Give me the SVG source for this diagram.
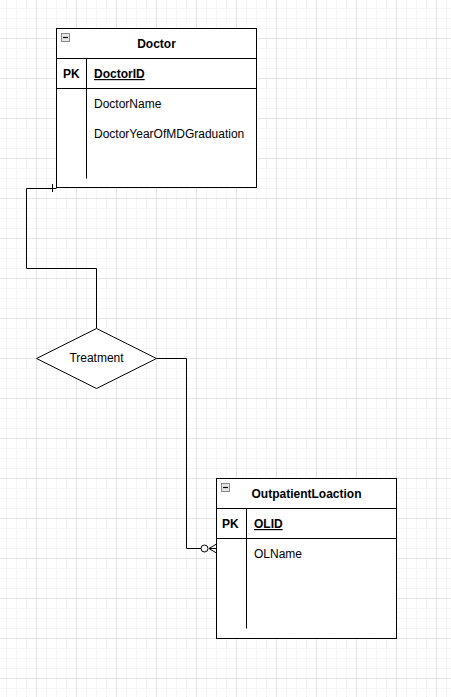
<svg xmlns="http://www.w3.org/2000/svg" width="451" height="697" viewBox="0 0 451 697">
<defs>
<pattern id="minor" x="6" y="8" width="10" height="10" patternUnits="userSpaceOnUse">
<path d="M0 0.5H10M0.5 0V10" fill="none" stroke="#f5f5f5" stroke-width="1"/>
</pattern>
<pattern id="major" x="36" y="38" width="40" height="40" patternUnits="userSpaceOnUse">
<path d="M0 0.5H40M0.5 0V40" fill="none" stroke="#e3e3e3" stroke-width="1"/>
</pattern>
<g id="minus">
<rect x="0.5" y="0.5" width="8" height="8" fill="#e6e6e6" stroke="#8a8a8a"/>
<path d="M2 4.5H7" stroke="#000" stroke-width="1.2"/>
</g>
</defs>
<style>
.box{fill:#fff;stroke:#000;stroke-width:1}
.ln{fill:none;stroke:#000;stroke-width:1}
text{font-family:"Liberation Sans",Arial,Helvetica,sans-serif;font-size:12px;fill:#000}
.b{font-weight:bold}
.c{text-anchor:middle}
</style>
<rect width="451" height="697" fill="#fff"/>
<rect width="451" height="697" fill="url(#minor)"/>
<rect width="451" height="697" fill="url(#major)"/>

<g id="connectors">
<path class="ln" d="M56.5 188.5H26.5V268.5H96.5V328.5"/>
<path class="ln" d="M52.5 184V192"/>
<path class="ln" d="M156.5 358.5H186.5V548.5H201"/>
<circle cx="204.5" cy="548.5" r="3.5" fill="#fff" stroke="#000" stroke-width="1"/>
<path class="ln" d="M216.5 544L209 548.5L216.5 553M209 548.5H216.5"/>
</g>

<g id="doctor">
<rect class="box" x="56.5" y="28.5" width="200" height="159"/>
<path class="ln" d="M56.5 58.5H256.5M56.5 88.5H256.5M86.5 58.5V178.5"/>
<use href="#minus" x="61" y="33"/>
<text class="b c" x="156.5" y="48">Doctor</text>
<text class="b" x="63" y="78">PK</text>
<text class="b" x="94" y="78" text-decoration="underline">DoctorID</text>
<text x="94" y="108">DoctorName</text>
<text x="94" y="138">DoctorYearOfMDGraduation</text>
</g>

<g id="treatment">
<polygon class="box" points="96.5,328.5 156.5,358.5 96.5,388.5 36.5,358.5"/>
<text class="c" x="96.5" y="362">Treatment</text>
</g>

<g id="outpatient">
<rect class="box" x="216.5" y="478.5" width="180" height="160"/>
<path class="ln" d="M216.5 508.5H396.5M216.5 538.5H396.5M246.5 508.5V628.5"/>
<use href="#minus" x="221" y="483"/>
<text class="b c" x="306.5" y="498">OutpatientLoaction</text>
<text class="b" x="222" y="528">PK</text>
<text class="b" x="254" y="528" text-decoration="underline">OLID</text>
<text x="254" y="558">OLName</text>
</g>
</svg>
